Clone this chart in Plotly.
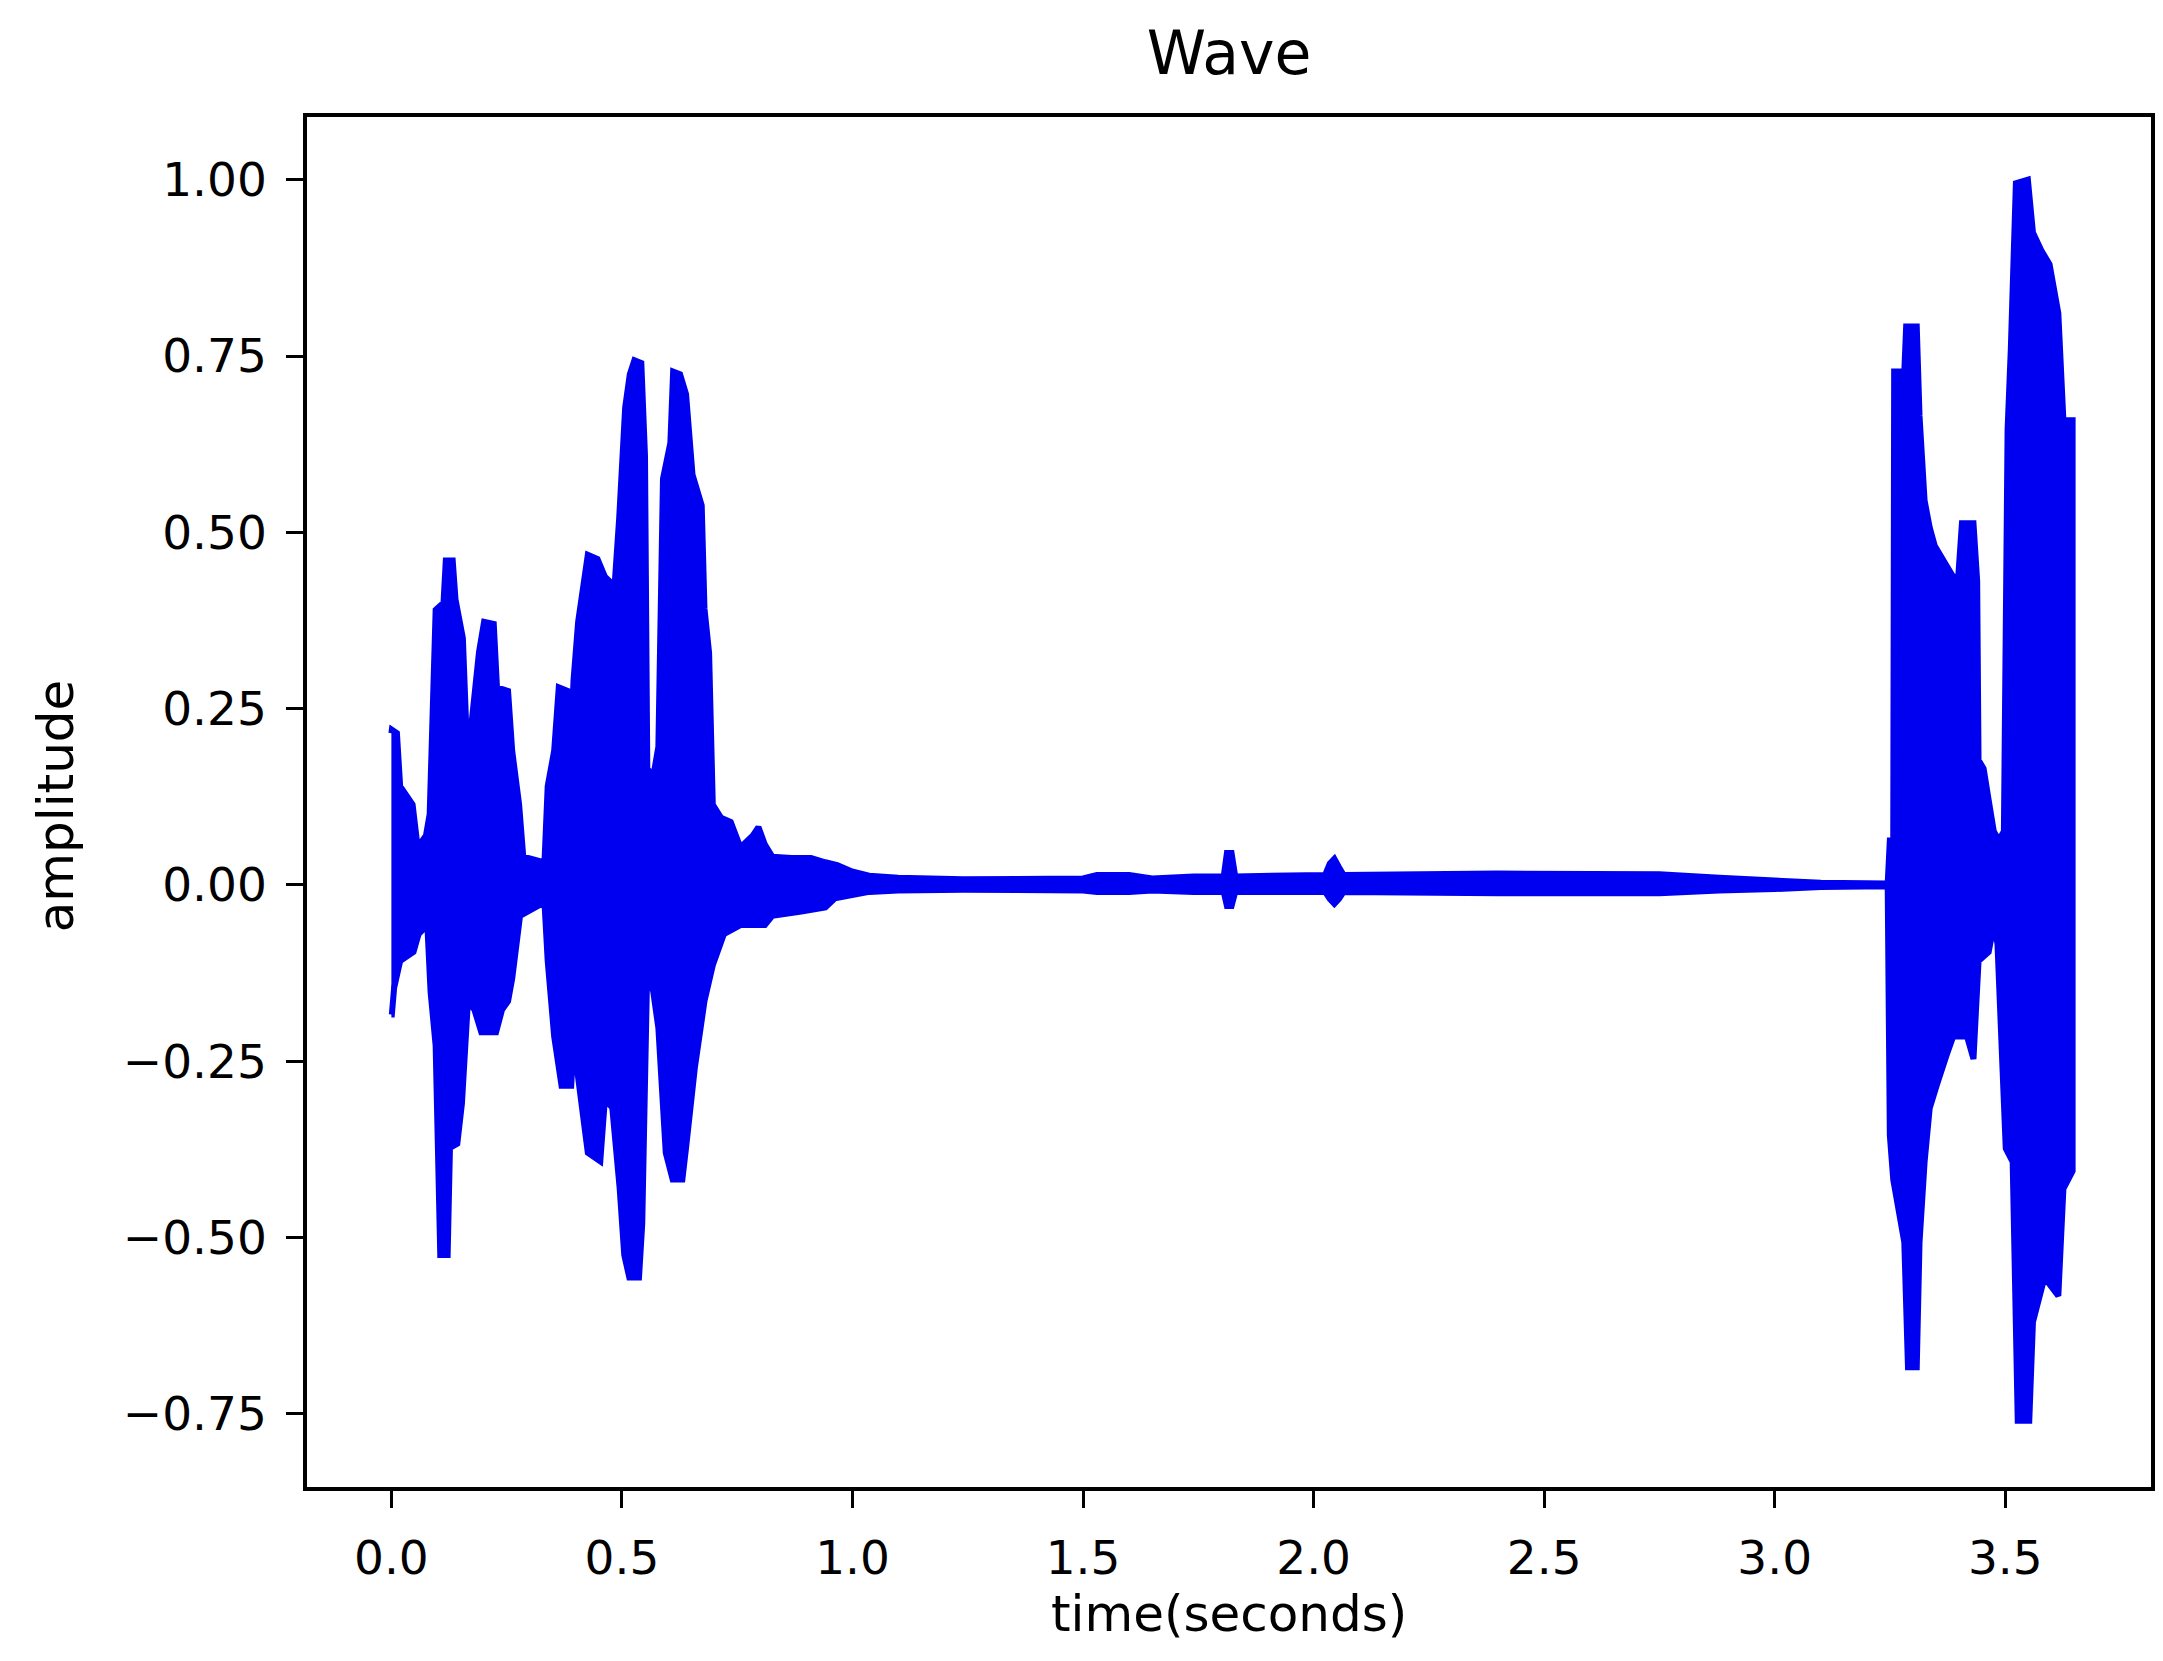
import plotly.graph_objects as go

# Envelope of the waveform (seconds, amplitude)
upper_t = [0.0, 0.001, 0.012, 0.019, 0.046, 0.057, 0.075, 0.083, 0.088, 0.096, 0.113, 0.118,
           0.133, 0.139, 0.155, 0.164, 0.174, 0.19, 0.201, 0.222, 0.229, 0.253, 0.262, 0.277,
           0.286, 0.332, 0.339, 0.353, 0.363, 0.382, 0.391, 0.395, 0.405, 0.426, 0.447, 0.463,
           0.484, 0.494, 0.507, 0.517, 0.527, 0.542, 0.55, 0.555, 0.568, 0.579, 0.589, 0.605,
           0.611, 0.626, 0.639, 0.653, 0.673, 0.679, 0.689, 0.697, 0.715, 0.736, 0.757, 0.784,
           0.796, 0.81, 0.826, 0.868, 0.91, 0.941, 0.967, 0.999, 1.036, 1.099,
           1.24, 1.5, 1.53, 1.6, 1.65, 1.74, 1.805, 1.812, 1.822, 1.83, 2.025, 2.035, 2.045,
           2.055, 2.065, 2.4, 2.75, 2.88, 3.0, 3.1, 3.245,
           3.2496, 3.257, 3.259, 3.281, 3.285, 3.308, 3.314, 3.325, 3.336, 3.347, 3.387, 3.398,
           3.406, 3.431, 3.439, 3.442, 3.453, 3.464, 3.475, 3.486, 3.497, 3.505, 3.512, 3.523,
           3.549, 3.56, 3.578, 3.596, 3.615, 3.626, 3.646]
upper_v = [0.215, 0.22, 0.215, 0.14, 0.114, 0.053, 0.07, 0.10, 0.21, 0.39, 0.40, 0.46,
           0.46, 0.405, 0.35, 0.195, 0.23, 0.33, 0.373, 0.37, 0.28, 0.275, 0.19, 0.114,
           0.04, 0.032, 0.14, 0.19, 0.28, 0.275, 0.228, 0.29, 0.373, 0.468, 0.462, 0.437,
           0.424, 0.52, 0.677, 0.724, 0.744, 0.74, 0.608, 0.165, 0.154, 0.196, 0.576, 0.627,
           0.728, 0.724, 0.696, 0.582, 0.538, 0.392, 0.329, 0.114, 0.095, 0.089, 0.053, 0.07,
           0.082, 0.057, 0.04, 0.038, 0.038, 0.032, 0.028, 0.019, 0.013, 0.01,
           0.008, 0.009, 0.014, 0.014, 0.009, 0.012, 0.012, 0.045, 0.045, 0.012, 0.014, 0.03, 0.037,
           0.025, 0.014, 0.016, 0.015, 0.01, 0.006, 0.003, 0.002,
           0.063, 0.063, 0.728, 0.728, 0.792, 0.792, 0.665, 0.545, 0.507, 0.481, 0.437, 0.437,
           0.513, 0.513, 0.431, 0.177, 0.165, 0.12, 0.076, 0.063, 0.076, 0.646, 0.76, 0.995,
           1.0, 0.925, 0.9, 0.88, 0.811, 0.659, 0.659]

lower_t = [0.0, 0.001, 0.006, 0.019, 0.048, 0.059, 0.078, 0.085, 0.096, 0.106, 0.122, 0.127,
           0.143, 0.153, 0.166, 0.18, 0.195, 0.227, 0.24, 0.253, 0.262, 0.279, 0.332, 0.339,
           0.353, 0.369, 0.39, 0.395, 0.411, 0.426, 0.453, 0.463, 0.479, 0.495, 0.505, 0.516,
           0.537, 0.544, 0.555, 0.568, 0.579, 0.595, 0.61, 0.631, 0.639, 0.658, 0.679, 0.697,
           0.721, 0.757, 0.81, 0.826, 0.889, 0.941, 0.962, 1.036, 1.099,
           1.24, 1.5, 1.53, 1.6, 1.65, 1.74, 1.805, 1.812, 1.822, 1.83, 2.025, 2.035, 2.045,
           2.055, 2.065, 2.4, 2.75, 2.88, 3.0, 3.1, 3.245,
           3.2496, 3.257, 3.281, 3.289, 3.308, 3.314, 3.325, 3.336, 3.351, 3.373, 3.387, 3.417,
           3.431, 3.442, 3.464, 3.475, 3.483, 3.501, 3.516, 3.527, 3.552, 3.56, 3.585, 3.615,
           3.626, 3.646]
lower_v = [-0.184, -0.184, -0.146, -0.108, -0.095, -0.07, -0.057, -0.152, -0.228, -0.525, -0.525, -0.373,
           -0.367, -0.31, -0.165, -0.177, -0.209, -0.209, -0.177, -0.165, -0.133, -0.044, -0.025, -0.108,
           -0.215, -0.285, -0.285, -0.222, -0.304, -0.38, -0.392, -0.304, -0.316, -0.43, -0.525, -0.557,
           -0.557, -0.481, -0.114, -0.152, -0.203, -0.38, -0.418, -0.418, -0.373, -0.26, -0.165, -0.114,
           -0.07, -0.057, -0.057, -0.044, -0.038, -0.032, -0.019, -0.01, -0.008,
           -0.007, -0.008, -0.01, -0.01, -0.008, -0.01, -0.01, -0.03, -0.03, -0.01, -0.01, -0.02, -0.027,
           -0.02, -0.01, -0.012, -0.012, -0.008, -0.006, -0.003, -0.002,
           -0.355, -0.418, -0.507, -0.684, -0.684, -0.507, -0.393, -0.317, -0.285, -0.241, -0.215, -0.215,
           -0.247, -0.108, -0.095, -0.057, -0.083, -0.374, -0.393, -0.76, -0.76, -0.62, -0.557, -0.583,
           -0.431, -0.406]

x_ticks = [0.0, 0.5, 1.0, 1.5, 2.0, 2.5, 3.0, 3.5]
y_ticks = [-0.75, -0.50, -0.25, 0.0, 0.25, 0.50, 0.75, 1.00]

wave_color = "#0000f0"
font_name = "DejaVu Sans"

# closed outline: upper envelope left to right, then lower envelope back
outline_t = upper_t + lower_t[::-1]
outline_v = upper_v + lower_v[::-1]

fig = go.Figure()
fig.add_trace(go.Scatter(x=outline_t, y=outline_v, mode="lines", fill="toself",
                         fillcolor=wave_color,
                         line=dict(color=wave_color, width=6, simplify=False),
                         showlegend=False))

axis_style = dict(
    showline=True, linecolor="black", linewidth=3.5, mirror=True,
    ticks="outside", ticklen=17, tickwidth=3, tickcolor="black",
    showgrid=False, zeroline=False,
    tickfont=dict(family=font_name, size=47, color="black"),
)

fig.update_layout(
    width=2163, height=1661,
    margin=dict(l=299, r=20, t=109, b=182),
    paper_bgcolor="white", plot_bgcolor="white",
    title=dict(text="Wave", x=0.5, xref="paper", xanchor="center",
               y=1 - 45 / 1661, yref="container", yanchor="middle",
               font=dict(family=font_name, size=60, color="black")),
    xaxis=dict(range=[-0.183, 3.816], tickvals=x_ticks, tickformat=".1f",
               ticklabelstandoff=10, **axis_style),
    yaxis=dict(range=[-0.854, 1.089], tickvals=y_ticks, tickformat=".2f",
               ticklabelstandoff=10, **axis_style),
    annotations=[
        dict(text="time(seconds)", xref="paper", yref="paper", x=0.5, y=-0.093,
             xanchor="center", yanchor="middle", showarrow=False,
             font=dict(family=font_name, size=50, color="black")),
        dict(text="amplitude", xref="paper", yref="paper", x=-0.136, y=0.497,
             xanchor="center", yanchor="middle", textangle=-90, showarrow=False,
             font=dict(family=font_name, size=50, color="black")),
    ],
)

fig.write_html("out.html")
